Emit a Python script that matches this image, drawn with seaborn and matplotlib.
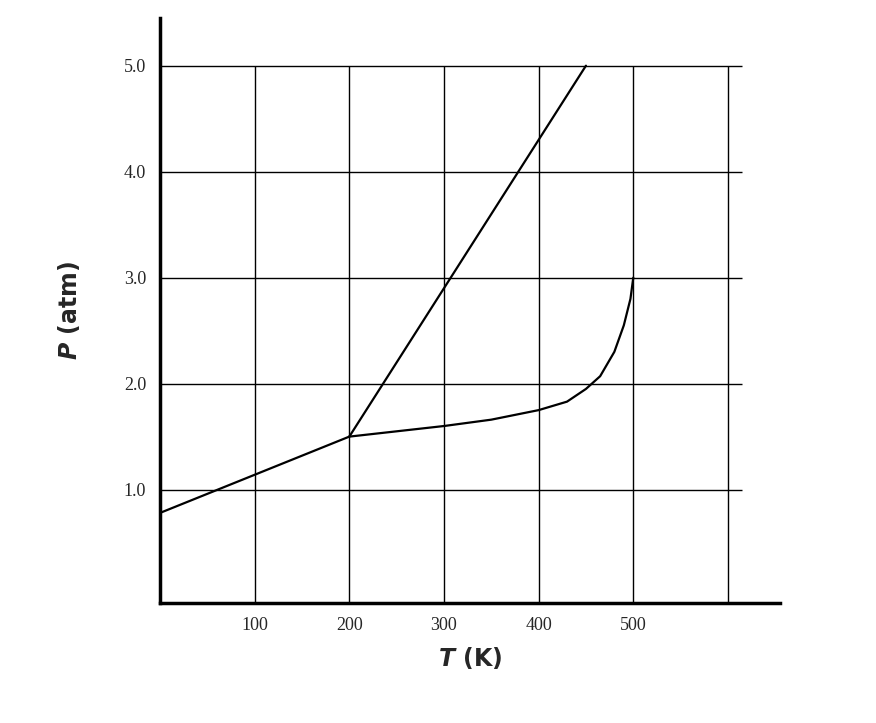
import matplotlib
matplotlib.use("Agg")
import matplotlib.pyplot as plt
import seaborn as sns
import numpy as np

sns.set_style("white")

x_ticks = [100, 200, 300, 400, 500]
y_ticks = [1.0, 2.0, 3.0, 4.0, 5.0]
grid_x = [100, 200, 300, 400, 500, 600]

solid_gas_T = [0, 200]
solid_gas_P = [0.78, 1.5]
solid_liq_T = [200, 450]
solid_liq_P = [1.5, 5.0]
liq_gas_T = [200, 250, 300, 350, 400, 430, 450, 465, 480, 490, 497, 500]
liq_gas_P = [1.5, 1.55, 1.6, 1.66, 1.75, 1.83, 1.95, 2.07, 2.3, 2.55, 2.8, 3.0]

fig = plt.figure(figsize=(8.76, 7.23), dpi=100)
ax = fig.add_axes([160/876, 1-603/723, 620/876, 585/723])
ax.set_xlim(0, 655)
ax.set_ylim(-0.07, 5.45)

ax.hlines(y_ticks, 0, 615, color="black", lw=1.0)
ax.vlines(grid_x, -0.07, 5.0, color="black", lw=1.0)

for T, P in [(solid_gas_T, solid_gas_P), (solid_liq_T, solid_liq_P), (liq_gas_T, liq_gas_P)]:
    sns.lineplot(x=T, y=P, ax=ax, color="black", lw=1.6, sort=False)

for s in ["top", "right"]:
    ax.spines[s].set_visible(False)
for s in ["left", "bottom"]:
    ax.spines[s].set_linewidth(2.5)
    ax.spines[s].set_color("black")

ax.set_xticks(x_ticks)
ax.set_xticklabels([str(v) for v in x_ticks], family="Liberation Serif", fontsize=13)
ax.set_yticks(y_ticks)
ax.set_yticklabels([f"{v:.1f}" for v in y_ticks], family="Liberation Serif", fontsize=13)
ax.tick_params(length=0, pad=10)
ax.set_xlabel(r"$\bfit{T}$ (K)", fontsize=17, fontweight="bold", labelpad=8)
ax.set_ylabel(r"$\bfit{P}$ (atm)", fontsize=17, fontweight="bold", labelpad=30)

fig.savefig("out.png", dpi=100)
